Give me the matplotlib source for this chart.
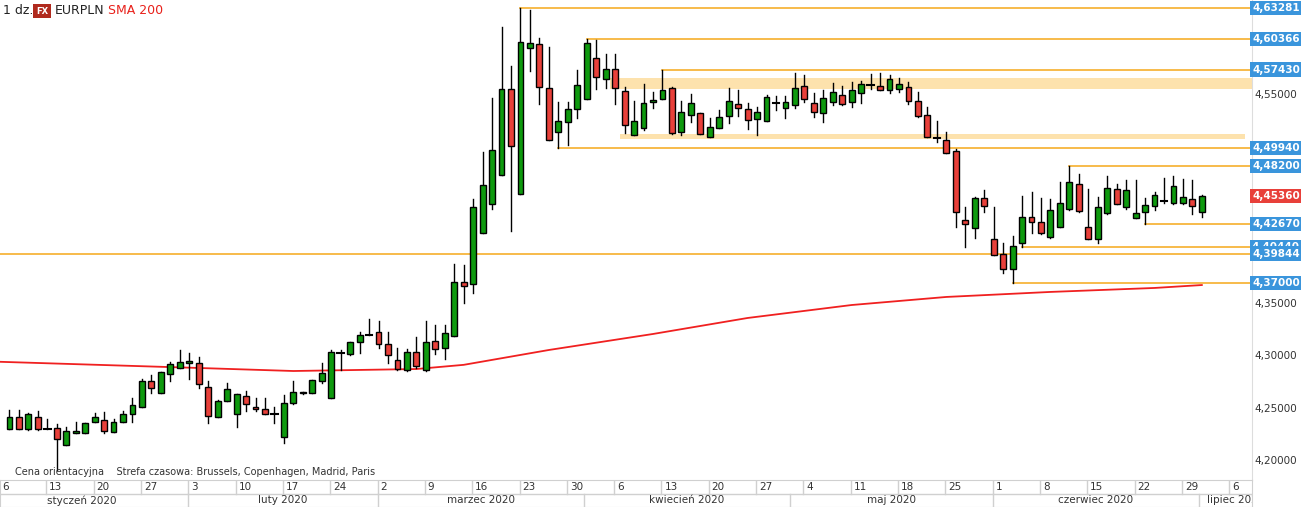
import matplotlib
matplotlib.use("Agg")
import matplotlib.pyplot as plt
import matplotlib.transforms as mtransforms
import numpy as np

opens = [4.2310,4.2418,4.2310,4.2418,4.2310,4.2313,4.2150,4.2265,4.2265,4.2370,
         4.2393,4.2275,4.2370,4.2447,4.2514,4.2765,4.2647,4.2829,4.2886,4.2934,
         4.2934,4.2711,4.2424,4.2571,4.2447,4.2619,4.2514,4.2495,4.2447,4.2233,
         4.2552,4.2647,4.2647,4.2769,4.2600,4.3036,4.3020,4.3135,4.3205,4.3231,
         4.3116,4.2966,4.2870,4.3040,4.2870,4.3151,4.3078,4.3196,4.3715,4.3690,
         4.4177,4.4455,4.4735,4.5554,4.4550,4.5946,4.5984,4.5564,4.5143,4.5245,
         4.5363,4.5458,4.5850,4.5649,4.5745,4.5538,4.5117,4.5181,4.5430,4.5458,
         4.5563,4.5149,4.5309,4.5324,4.5101,4.5181,4.5299,4.5410,4.5366,4.5267,
         4.5251,4.5420,4.5372,4.5404,4.5586,4.5421,4.5325,4.5437,4.5500,4.5437,
         4.5516,4.5599,4.5586,4.5548,4.5558,4.5574,4.5446,4.5309,4.5092,4.5070,
         4.4968,4.4305,4.4226,4.4513,4.4120,4.3977,4.3834,4.4082,4.4331,4.4283,
         4.4146,4.4235,4.4411,4.4646,4.4235,4.4121,4.4369,4.4599,4.4427,4.4321,
         4.4379,4.4439,4.4490,4.4465,4.4465,4.4503,4.4385]
highs = [4.2488,4.2488,4.2463,4.2480,4.2400,4.2351,4.2322,4.2370,4.2361,4.2456,
         4.2472,4.2399,4.2478,4.2600,4.2785,4.2823,4.2848,4.2944,4.3062,4.3036,
         4.2998,4.2765,4.2584,4.2743,4.2638,4.2670,4.2600,4.2600,4.2520,4.2632,
         4.2765,4.2660,4.2775,4.2934,4.3062,4.3062,4.3142,4.3237,4.3355,4.3339,
         4.3231,4.3078,4.3072,4.3183,4.3339,4.3301,4.3301,4.3881,4.3875,4.4502,
         4.4952,4.5468,4.6147,4.5777,4.6328,4.6310,4.6041,4.5955,4.5436,4.5436,
         4.5739,4.6037,4.6025,4.5892,4.5892,4.5573,4.5442,4.5605,4.5531,4.5743,
         4.5573,4.5442,4.5509,4.5324,4.5277,4.5356,4.5563,4.5547,4.5420,4.5388,
         4.5500,4.5493,4.5490,4.5713,4.5692,4.5516,4.5548,4.5612,4.5586,4.5621,
         4.5634,4.5701,4.5707,4.5692,4.5660,4.5628,4.5532,4.5389,4.5252,4.5150,
         4.4981,4.4433,4.4528,4.4592,4.4433,4.4082,4.4152,4.4535,4.4570,4.4512,
         4.4503,4.4672,4.4820,4.4742,4.4599,4.4528,4.4726,4.4649,4.4688,4.4688,
         4.4512,4.4570,4.4704,4.4729,4.4694,4.4688,4.4544]
lows = [4.2303,4.2303,4.2300,4.2300,4.2310,4.1915,4.2150,4.2265,4.2265,4.2370,
        4.2265,4.2275,4.2370,4.2370,4.2514,4.2654,4.2647,4.2769,4.2886,4.2781,
        4.2702,4.2361,4.2418,4.2571,4.2329,4.2482,4.2482,4.2447,4.2367,4.2170,
        4.2542,4.2641,4.2647,4.2749,4.2600,4.2871,4.3011,4.3030,4.3205,4.3078,
        4.2935,4.2870,4.2860,4.2887,4.2860,4.3020,4.2973,4.3196,4.3508,4.3610,
        4.4177,4.4407,4.4735,4.4203,4.4550,4.5732,4.5411,4.5070,4.4994,4.5022,
        4.5277,4.5458,4.5554,4.5563,4.5414,4.5133,4.5117,4.5165,4.5372,4.5458,
        4.5127,4.5117,4.5245,4.5127,4.5095,4.5181,4.5229,4.5299,4.5175,4.5117,
        4.5251,4.5356,4.5283,4.5372,4.5437,4.5287,4.5245,4.5405,4.5405,4.5389,
        4.5421,4.5555,4.5548,4.5516,4.5526,4.5411,4.5287,4.5096,4.5054,4.4943,
        4.4242,4.4044,4.4130,4.4385,4.3971,4.3802,4.3700,4.4044,4.4178,4.4168,
        4.4136,4.4235,4.4401,4.4385,4.4121,4.4082,4.4360,4.4455,4.4407,4.4321,
        4.4267,4.4401,4.4465,4.4455,4.4455,4.4360,4.4331]
closes = [4.2424,4.2310,4.2447,4.2310,4.2310,4.2208,4.2284,4.2284,4.2361,4.2418,
          4.2284,4.2370,4.2447,4.2533,4.2765,4.2695,4.2848,4.2925,4.2944,4.2957,
          4.2734,4.2431,4.2574,4.2686,4.2638,4.2546,4.2495,4.2447,4.2447,4.2552,
          4.2657,4.2660,4.2775,4.2845,4.3040,4.3036,4.3142,4.3205,4.3205,4.3116,
          4.3011,4.2880,4.3040,4.2912,4.3135,4.3068,4.3221,4.3715,4.3677,4.4426,
          4.4636,4.4971,4.5554,4.5012,4.6003,4.5994,4.5573,4.5070,4.5248,4.5363,
          4.5595,4.5994,4.5668,4.5745,4.5563,4.5213,4.5251,4.5420,4.5452,4.5547,
          4.5133,4.5334,4.5420,4.5127,4.5197,4.5293,4.5442,4.5379,4.5261,4.5334,
          4.5477,4.5420,4.5430,4.5563,4.5459,4.5341,4.5468,4.5532,4.5411,4.5548,
          4.5606,4.5599,4.5548,4.5650,4.5602,4.5446,4.5303,4.5096,4.5092,4.4943,
          4.4379,4.4264,4.4519,4.4439,4.3971,4.3834,4.4060,4.4331,4.4289,4.4178,
          4.4398,4.4465,4.4672,4.4395,4.4127,4.4427,4.4608,4.4455,4.4592,4.4369,
          4.4449,4.4544,4.4490,4.4630,4.4528,4.4439,4.4536]

sma_idx = [-1, 20, 30, 43, 48, 57, 68, 78, 89, 99, 110, 121, 126]
sma_val = [4.2949, 4.2890, 4.2861, 4.2880, 4.2920, 4.3062, 4.3215, 4.3368, 4.3492, 4.3569, 4.3617, 4.3655, 4.3683]

# (price, start index, label)
levels = [(4.63281, 54, "4,63281"), (4.60366, 61, "4,60366"), (4.57430, 69, "4,57430"),
          (4.49940, 58, "4,49940"), (4.48200, 112, "4,48200"), (4.42670, 120, "4,42670"),
          (4.40440, 107, "4,40440"), (4.39844, -2, "4,39844"), (4.37000, 106, "4,37000")]
bands = [(4.5557, 4.5663, 64), (4.5079, 4.5127, 65)]
last_price = 4.45360
yticks = [4.20, 4.25, 4.30, 4.35, 4.55]

day_idx = [0,5,10,15,20,25,30,35,40,45,50,55,60,65,70,75,80,85,90,95,100,105,110,115,120,125,130]
day_lab = ["6","13","20","27","3","10","17","24","2","9","16","23","30","6","13","20","27","4","11","18","25","1","8","15","22","29","6"]
month_start = [-3.7, 18.9, 38.9, 60.7, 82.5, 103.9, 125.7]
month_lab = ["styczeń 2020","luty 2020","marzec 2020","kwiecień 2020","maj 2020","czerwiec 2020","lipiec 2020"]

W, H = 1301, 507
fig = plt.figure(figsize=(W/100, H/100), dpi=100)
ax = fig.add_axes([0, 27/H, 1252/W, 480/H])
ax.set_xlim(-1.0, 131.3)
ax.set_ylim(4.1819, 4.6408)
for s in ["top", "left", "bottom"]:
    ax.spines[s].set_visible(False)
ax.spines["right"].set_color("#dddddd")
ax.set_xticks([]); ax.set_yticks([])

orange = "#f7b53d"
for lo, hi, st in bands:
    ax.fill_between([st - 0.5, 131.3 if hi > 4.55 else 130.6], lo, hi, color="#fde2ad", lw=0, zorder=1)
for p, st, lab in levels:
    ax.plot([st, 131.3], [p, p], color=orange, lw=1.3, zorder=2)

ax.plot(sma_idx, sma_val, color="#f02020", lw=1.3, zorder=3)

n = len(opens)
for i in range(n):
    o, h, l, c = opens[i], highs[i], lows[i], closes[i]
    col = "#0e9a0e" if c >= o else "#e8403a"
    ax.plot([i, i], [l, h], color="black", lw=1, zorder=4)
    bot, top = min(o, c), max(o, c)
    if top - bot < 0.0004:
        ax.plot([i - 0.35, i + 0.35], [o, o], color="black", lw=1.5, zorder=5)
    else:
        ax.bar(i, top - bot, bottom=bot, width=0.62, color=col, edgecolor="black", lw=1, zorder=5)

trans = mtransforms.blended_transform_factory(fig.transFigure, ax.transData)
xl = 1276 / W
for t in yticks:
    ax.text(xl, t, f"{t:.5f}".replace(".", ","), transform=trans, ha="center", va="center",
            fontsize=7.5, color="#333333", clip_on=False)
for p, st, lab in levels:
    ax.text(xl, p, lab, transform=trans, ha="center", va="center", fontsize=7.5, color="white",
            fontweight="bold", clip_on=False,
            bbox=dict(boxstyle="square,pad=0.2", fc="#3a95dc", ec="none"))
ax.text(xl, last_price, f"{last_price:.5f}".replace(".", ","), transform=trans, ha="center", va="center",
        fontsize=7.5, color="white", fontweight="bold", clip_on=False,
        bbox=dict(boxstyle="square,pad=0.2", fc="#e8403a", ec="none"))

# header
fig.text(3/W, 1 - 11/H, "1 dz.", fontsize=9, va="center", color="#222222")
fig.text(42/W, 1 - 11/H, "FX", fontsize=6, va="center", ha="center", color="white", fontweight="bold",
         bbox=dict(boxstyle="square,pad=0.35", fc="#b02a1e", ec="none"))
fig.text(55/W, 1 - 11/H, "EURPLN", fontsize=9, va="center", color="#222222")
fig.text(108/W, 1 - 11/H, "SMA 200", fontsize=9, va="center", color="#e8201a")
fig.text(15/W, 1 - 472/H, "Cena orientacyjna    Strefa czasowa: Brussels, Copenhagen, Madrid, Paris",
         fontsize=7, va="center", color="#333333")

# date axis
dax = fig.add_axes([0, 0, 1252/W, 27/H])
dax.set_xlim(-1.0, 131.3); dax.set_ylim(0, 2)
dax.set_xticks([]); dax.set_yticks([])
for s in dax.spines.values():
    s.set_color("#d0d0d0")
dax.axhline(1, color="#d0d0d0", lw=1)
for d, lab in zip(day_idx, day_lab):
    dax.plot([d - 1.1, d - 1.1], [1, 2], color="#d0d0d0", lw=1)
    dax.text(d - 0.8, 1.5, lab, fontsize=7.5, va="center", ha="left", color="#333333", clip_on=True)
for k, lab in enumerate(month_lab):
    s = month_start[k]
    last = k + 1 == len(month_start)
    e = s + 22 if last else month_start[k + 1]
    dax.plot([s, s], [0, 1], color="#d0d0d0", lw=1)
    dax.text(s + 0.8 if last else (s + e) / 2, 0.5, lab, fontsize=7.5, va="center",
             ha="left" if last else "center", color="#333333", clip_on=True)

fig.savefig("out.png", dpi=100)
